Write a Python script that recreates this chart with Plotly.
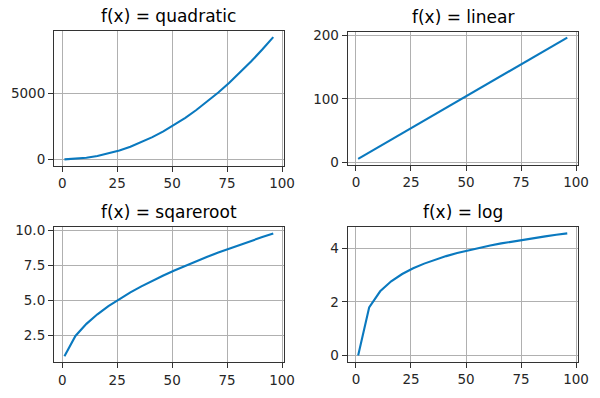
import plotly.graph_objects as go

x_vals = [1, 6, 11, 16, 21, 26, 31, 36, 41, 46, 51, 56, 61, 66, 71, 76, 81, 86, 91, 96]
quadratic = [1, 36, 121, 256, 441, 676, 961, 1296, 1681, 2116, 2601, 3136, 3721, 4356,
             5041, 5776, 6561, 7396, 8281, 9216]
linear = [6, 16, 26, 36, 46, 56, 66, 76, 86, 96, 106, 116, 126, 136, 146, 156, 166, 176, 186, 196]
sqareroot = [1.0, 2.449, 3.317, 4.0, 4.583, 5.099, 5.568, 6.0, 6.403, 6.782, 7.141, 7.483,
             7.810, 8.124, 8.426, 8.718, 9.0, 9.274, 9.539, 9.798]
logv = [0.0, 1.792, 2.398, 2.773, 3.045, 3.258, 3.434, 3.584, 3.714, 3.829, 3.932, 4.025,
        4.111, 4.190, 4.263, 4.331, 4.394, 4.454, 4.511, 4.564]
titles = ["f(x) = quadratic", "f(x) = linear", "f(x) = sqareroot", "f(x) = log"]
series = [quadratic, linear, sqareroot, logv]
ytick_vals = [[0, 5000], [0, 100, 200], [2.5, 5.0, 7.5, 10.0], [0, 2, 4]]
ytick_text = [["0", "5000"], ["0", "100", "200"], ["2.5", "5.0", "7.5", "10.0"], ["0", "2", "4"]]
xtick_vals = [0, 25, 50, 75, 100]

W, H = 600, 398
# pixel boxes: (left, right, top, bottom)
boxes = [(54, 283.7, 31, 165.5), (347.7, 577.7, 31.5, 165),
         (54, 283.7, 227.3, 362.3), (347.7, 577.7, 227.3, 361.5)]

LINE = "#0a79bf"
FONT = "DejaVu Sans, sans-serif"

fig = go.Figure()
layout = dict(width=W, height=H, margin=dict(l=0, r=0, t=0, b=0, autoexpand=False),
              paper_bgcolor="white", plot_bgcolor="white", showlegend=False,
              hovermode=False,
              font=dict(family=FONT, size=13.5, color="#262626"))
annotations = []


def margin_range(vals):
    lo, hi = min(vals), max(vals)
    m = (hi - lo) * 0.05
    return [lo - m, hi + m]


for i, (ys, box) in enumerate(zip(series, boxes)):
    n = "" if i == 0 else str(i + 1)
    l, r, t, b = box
    fig.add_trace(go.Scatter(x=x_vals, y=ys, mode="lines",
                             line=dict(color=LINE, width=2.1),
                             xaxis="x" + n, yaxis="y" + n))
    common = dict(showline=True, mirror=True, linecolor="#333333", linewidth=1.1,
                  ticks="outside", ticklen=5, tickwidth=1.1, tickcolor="#333333",
                  showgrid=True, gridcolor="#b0b0b0", gridwidth=1.1, zeroline=False,
                  automargin=False,
                  tickfont=dict(family=FONT, size=13.5, color="#262626"))
    layout["xaxis" + n] = dict(common, domain=[l / W, r / W], anchor="y" + n,
                               range=margin_range(x_vals), tickvals=xtick_vals,
                               ticktext=[str(v) for v in xtick_vals])
    layout["yaxis" + n] = dict(common, domain=[1 - b / H, 1 - t / H], anchor="x" + n,
                               range=margin_range(ys), tickvals=ytick_vals[i],
                               ticktext=ytick_text[i])
    annotations.append(dict(text=titles[i], x=(l + r) / 2 / W, y=1 - (t - 3) / H,
                            xref="paper", yref="paper", xanchor="center", yanchor="bottom",
                            showarrow=False, font=dict(family=FONT, size=17, color="black")))

layout["annotations"] = annotations
fig.update_layout(**layout)
fig.write_html("out.html", config={"displayModeBar": False},
               post_script="document.body.style.margin='0';document.body.style.overflow='hidden';")
